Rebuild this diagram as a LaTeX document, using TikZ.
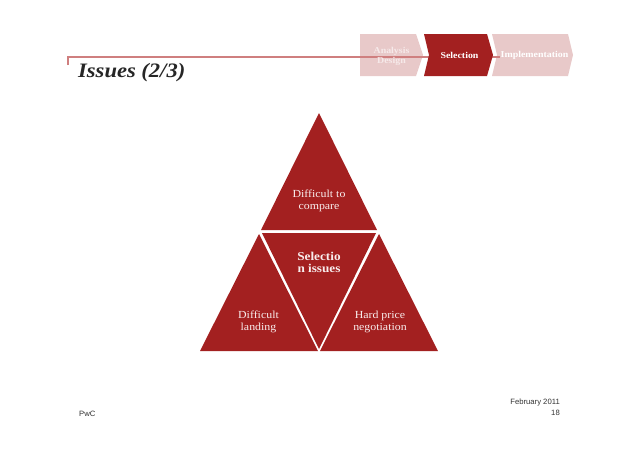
\documentclass[tikz,border=0pt]{standalone}
\usepackage{fontspec}
\setmainfont[FakeStretch=1.1]{Liberation Serif}
\newfontfamily\footfont{Liberation Sans}
\usetikzlibrary{positioning}
\definecolor{pwcred}{HTML}{A32020}
\definecolor{pwclight}{HTML}{E8C9C9}
\definecolor{pwcrule}{HTML}{CF7F7F}
\tikzset{
    x=1pt,
    y=1pt,
    facet/.style={fill=pwcred},
    chevron/.style={fill=pwclight},
    facetlabel/.style={text=white!92!pwcred, font=\fontsize{10.8}{12.5}\selectfont, align=center, inner sep=0pt},
    steplabel/.style={text=white, font=\fontsize{9}{10}\selectfont\bfseries, align=center, inner sep=0pt},
    footlabel/.style={text=black!80, font=\footfont\fontsize{7.7}{10}\selectfont, inner sep=0pt},
}

\begin{document}
\begin{tikzpicture}
    \useasboundingbox (0,0) rectangle (638,-451);

    % header
    \fill[chevron] (360,-34) -- (416,-34) -- (423,-55) -- (416,-76) -- (360,-76) -- cycle;
    \fill[chevron] (492,-34) -- (568,-34) -- (573,-55) -- (568,-76) -- (492,-76) -- (497,-55) -- cycle;
    \draw[pwcrule, line width=1.1pt] (68,-65) -- (68,-57) -- (500,-57);
    \fill[facet] (424,-34) -- (487,-34) -- (493,-55) -- (487,-76) -- (424,-76) -- (429,-55) -- cycle;
    \node[steplabel, text=white!90!pwcred] (analysis) at (391.5,-56) {Analysis\\Design};
    \node[steplabel] (selection) at (459.5,-55) {Selection};
    \node[steplabel] (implementation) at (534.5,-55) {Implementation};
    \node[anchor=west, inner sep=0pt, text=black!85, font=\fontsize{20.5}{22}\selectfont\bfseries\itshape] (title) at (78,-73) {Issues (2/3)};

    % pyramid
    \fill[facet] (319,-113) -- (377,-230) -- (261,-230) -- cycle;
    \fill[facet] (262,-233) -- (376,-233) -- (319,-349) -- cycle;
    \fill[facet] (259,-234) -- (318,-351) -- (200,-351) -- cycle;
    \fill[facet] (379,-234) -- (438,-351) -- (320,-351) -- cycle;
    \node[facetlabel] (compare) at (319,-201) {Difficult to\\compare};
    \node[facetlabel, font=\fontsize{12}{12}\selectfont\bfseries] (issues) at (319,-262) {Selectio\\n issues};
    \node[facetlabel] (landing) at (258.5,-322) {Difficult\\landing};
    \node[facetlabel] (negotiation) at (380,-322) {Hard price\\negotiation};

    % footer
    \node[footlabel, anchor=east] (date) at (560,-403) {February 2011};
    \node[footlabel, below=3pt of date.south east, anchor=north east] (page) {18};
    \node[footlabel, anchor=west] (firm) at (79,-414) {PwC};
\end{tikzpicture}
\end{document}
